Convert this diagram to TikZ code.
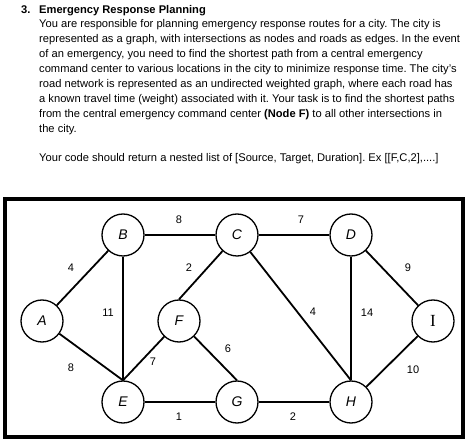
\documentclass[tikz,border=0pt]{standalone}
\usepackage{fontspec}
\setmainfont{Liberation Sans}
\newfontfamily\serifI{Liberation Serif}
\frenchspacing
\begin{document}
\begin{tikzpicture}[x=1pt,y=-1pt,
  txt/.style={anchor=base west,inner sep=0pt,font=\fontsize{11.15}{13}\selectfont},
  vert/.style={circle,draw,line width=1.3pt,minimum size=42pt,inner sep=0pt,font=\fontsize{14}{14}\selectfont\itshape},
  road/.style={line width=1.8pt},
  wt/.style={inner sep=0pt,font=\fontsize{11}{11}\selectfont}]
\useasboundingbox (0,0) rectangle (474,443);
\node[txt,font=\fontsize{11.15}{13}\selectfont\bfseries] (t0a) at (21,13.2) {3.};
\node[txt,font=\fontsize{11.15}{13}\selectfont\bfseries] (t0) at (39,13.2) {Emergency Response Planning};
\node[txt] (t1) at (39,28.0) {You are responsible for planning emergency response routes for a city. The city is};
\node[txt] (t2) at (39,42.9) {represented as a graph, with intersections as nodes and roads as edges. In the event};
\node[txt] (t3) at (39,57.8) {of an emergency, you need to find the shortest path from a central emergency};
\node[txt] (t4) at (39,72.7) {command center to various locations in the city to minimize response time. The city's};
\node[txt] (t5) at (39,87.6) {road network is represented as an undirected weighted graph, where each road has};
\node[txt] (t6) at (39,102.5) {a known travel time (weight) associated with it. Your task is to find the shortest paths};
\node[txt] (t7) at (39,117.4) {from the central emergency command center \textbf{(Node F)} to all other intersections in};
\node[txt] (t8) at (39,132.3) {the city.};
\node[txt] (t9) at (39,162.0) {Your code should return a nested list of [Source, Target, Duration]. Ex [[F,C,2],....]};
\draw[line width=3.5pt] (5,199) rectangle (463,437);
\node[vert] (A) at (42,321) {A};
\node[vert] (B) at (123,235) {B};
\node[vert] (C) at (237,235) {C};
\node[vert] (D) at (351,235) {D};
\node[vert] (F) at (179,321) {F};
\node[vert,font=\fontsize{17}{17}\selectfont\serifI] (I) at (433,321) {I};
\node[vert] (E) at (123,402) {E};
\node[vert] (G) at (237,402) {G};
\node[vert] (H) at (351,402) {H};
\draw[road] (A) -- (B);
\draw[road] (A) -- (E.north);
\draw[road] (B) -- (C);
\draw[road] (B) -- (E);
\draw[road] (C) -- (D);
\draw[road] (C) -- (F.north);
\draw[road] (C) -- (H.north);
\draw[road] (D) -- (H);
\draw[road] (D) -- (I);
\draw[road] (F) -- (E.north);
\draw[road] (F) -- (G.north);
\draw[road] (E) -- (G);
\draw[road] (G) -- (H);
\draw[road] (H) -- (I);
\node[wt] (wAB) at (71,268) {4};
\node[wt] (wAE) at (71,368) {8};
\node[wt] (wBC) at (179,220) {8};
\node[wt] (wBE) at (108,313) {11};
\node[wt] (wCD) at (301,220) {7};
\node[wt] (wCF) at (189,268) {2};
\node[wt] (wCH) at (313,312) {4};
\node[wt] (wDH) at (367,313) {14};
\node[wt] (wDI) at (408,268) {9};
\node[wt] (wFE) at (153,362) {7};
\node[wt] (wFG) at (228,349) {6};
\node[wt] (wEG) at (179,417) {1};
\node[wt] (wGH) at (293,417) {2};
\node[wt] (wHI) at (413,370) {10};
\end{tikzpicture}
\end{document}
